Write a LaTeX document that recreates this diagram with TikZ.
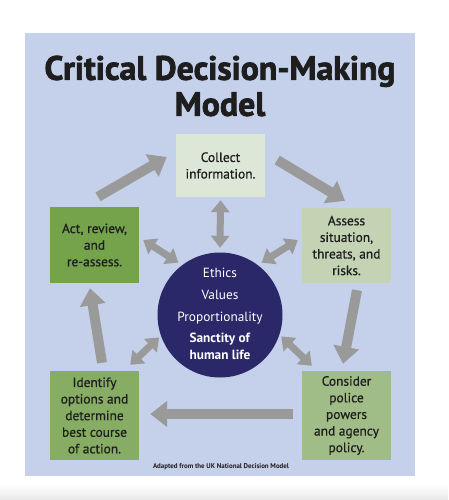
\documentclass[tikz,border=0pt]{standalone}
\usepackage{fontspec}
\setmainfont{PT Sans}
\newfontfamily\titlefont{PT Sans}[BoldFeatures={FakeBold=2.2}]
\newfontfamily\boxfont{PT Sans}[FakeBold=0.7]
\usetikzlibrary{arrows.meta}
\definecolor{bgblue}{HTML}{C5D1EA}
\definecolor{arrowgray}{HTML}{9A9A9A}
\definecolor{navy}{HTML}{2A2868}
\definecolor{cCollect}{HTML}{DDE7D8}
\definecolor{cAct}{HTML}{74A34B}
\definecolor{cAssess}{HTML}{C3D3B3}
\definecolor{cIdentify}{HTML}{86AD63}
\definecolor{cConsider}{HTML}{A1BD87}
\definecolor{txt}{HTML}{1E1E1E}
\tikzset{
  stepbox/.style={rectangle, minimum width=89pt, inner sep=0pt, align=center,
    text=txt, font=\boxfont\fontsize{13.4}{16.6}\selectfont},
  bigarrow/.style={draw=arrowgray, line width=10pt,
    -{Triangle[length=17pt, width=25pt, fill=arrowgray]}},
  dblarrow/.style={draw=arrowgray, line width=7pt,
    {Triangle[length=12pt, width=18pt, fill=arrowgray]}-{Triangle[length=12pt, width=18pt, fill=arrowgray]}},
}
\begin{document}
\begin{tikzpicture}[x=1pt, y=-1pt]
\useasboundingbox (0,0) rectangle (448,500);
\fill[white] (0,0) rectangle (448,500);
\shade[top color=white, bottom color=black!9] (0,484) rectangle (448,500);
\fill[bgblue] (25,33) rectangle (415,476);
% title
\node (title) at (220,86) [align=center, text=txt,
  font=\titlefont\fontsize{33.8}{36}\selectfont\bfseries] {Critical Decision-Making\\Model};
% boxes
\node (collect) at (220.5,165.5) [stepbox, fill=cCollect, minimum height=63pt] {Collect\\information.};
\node (act) at (94.5,245) [stepbox, fill=cAct, minimum height=76pt] {Act, review,\\and\\re-assess.};
\node (assess) at (346.5,245.5) [stepbox, fill=cAssess, minimum height=75pt] {Assess\\situation,\\threats, and\\risks.};
\node (identify) at (94.5,415.5) [stepbox, fill=cIdentify, minimum height=89pt] {Identify\\options and\\determine\\best course\\of action.};
\node (consider) at (346.5,415.5) [stepbox, fill=cConsider, minimum height=89pt] {Consider\\police\\powers\\and agency\\policy.};
% circle
\node (circ) at (220,315) [circle, fill=navy, minimum size=125pt, inner sep=0pt] {};
\node (core) at (220,314) [align=center, text=white, font=\fontsize{13.3}{16.6}\selectfont]
  {Ethics\\[5pt]Values\\[5pt]Proportionality\\[5pt]\textbf{Sanctity of}\\\textbf{human life}};
% cycle arrows
\draw[bigarrow] ([xshift=3.5pt,yshift=10pt]act.north) -- ([xshift=-9pt,yshift=8.5pt]collect.west);
\draw[bigarrow] ([xshift=12pt,yshift=5.5pt]collect.east) -- ([xshift=-1.5pt,yshift=7pt]assess.north);
\draw[bigarrow] ([xshift=10.5pt,yshift=-7pt]assess.south) -- ([xshift=-3.5pt,yshift=7pt]consider.north);
\draw[bigarrow] ([xshift=-9pt,yshift=1.5pt]consider.west) -- ([xshift=11pt,yshift=1.5pt]identify.east);
\draw[bigarrow] ([xshift=7.5pt,yshift=8pt]identify.north) -- ([xshift=-4.5pt,yshift=-5pt]act.south);
% double arrows
\draw[dblarrow] ([yshift=-3pt]collect.south) -- ([yshift=4.5pt]circ.north);
\draw[dblarrow] ([xshift=4pt,yshift=5pt]act.east) -- ([xshift=-3pt,yshift=3pt]circ.128);
\draw[dblarrow] ([xshift=-4pt,yshift=5.5pt]assess.west) -- ([xshift=3pt,yshift=3pt]circ.52);
\draw[dblarrow] ([xshift=-9pt,yshift=6pt]identify.north east) -- ([xshift=-2pt,yshift=-1pt]circ.200);
\draw[dblarrow] ([xshift=10pt,yshift=5pt]consider.north west) -- ([xshift=2pt,yshift=-1pt]circ.-19);
% footer
\node (footer) at (221,467) [text=txt, font=\fontsize{6.9}{7.5}\selectfont\bfseries] {Adapted from the UK National Decision Model};
\end{tikzpicture}
\end{document}
